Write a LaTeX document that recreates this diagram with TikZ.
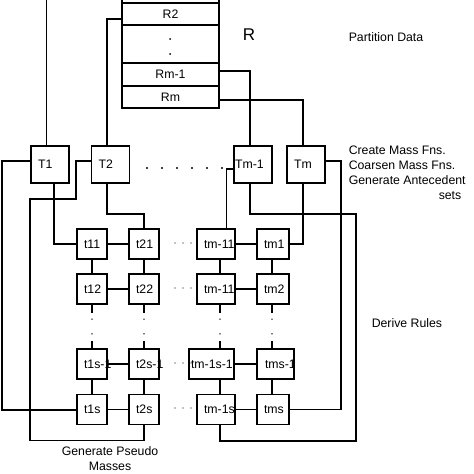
\documentclass[tikz,border=0pt]{standalone}
\usepackage{fontspec}
\setmainfont{Liberation Sans}
\usetikzlibrary{positioning,calc}
\tikzset{
  every node/.style={font=\fontsize{12.3}{15}\selectfont},
  rrow/.style={draw,minimum width=97pt,inner sep=0pt,minimum height=#1},
  tbox/.style={draw,minimum height=37pt,text width=24pt,inner xsep=7pt,align=left},
  gbox/.style={draw,minimum height=30pt,text width=16pt,inner xsep=7pt,align=left},
}
\exhyphenpenalty=10000
\hbadness=10000
\hfuzz=100pt

\begin{document}
\begin{tikzpicture}[x=1pt,y=-1pt,line width=1.5pt]
\path[use as bounding box,clip] (0,0) rectangle (474,474);
% partition table
\node[rrow=22pt] (R1) at (170.5,-8) {};
\node[rrow=22pt] (R2) at (170.5,14) {R2};
\node[rrow=38pt] (Rd) at (170.5,44) {};
\node[rrow=23pt] (Rm1) at (170.5,74.5) {Rm-1};
\node[rrow=22pt] (Rm) at (170.5,97) {Rm};
\fill (170,39) circle[radius=1pt] (170,54) circle[radius=1pt];
\node[font=\fontsize{17}{20}\selectfont] (Rname) at (249,35) {R};
\node[anchor=west,inner sep=0pt] (part) at (348,37) {Partition Data};
% mass function tasks
\node[tbox] (T1) at (50,164.5) {T1};
\node[tbox] (T2) at (110.5,164.5) {T2};
\node[tbox,inner xsep=1pt,text width=36pt] (Tm1) at (253,164.5) {Tm-1};
\node[tbox] (Tm) at (306,164.5) {Tm};
\foreach \x in {147,162,...,222}
  \fill (\x,168) circle[radius=1.1pt];
\node[anchor=north west,inner sep=0pt,align=left] (steps) at (348,145.5)
  {Create Mass Fns.\\Coarsen Mass Fns.\\Generate Antecedent\\\hspace*{90pt}sets};
% rule grid
\coordinate (c1) at (92,0);
\coordinate (c2) at (144,0);
\coordinate (c3) at (220,0);
\coordinate (c4) at (272,0);
\node[gbox] (t11) at (92,244) {t11};
\node[gbox] (t21) at (144,244) {t21};
\node[gbox,text width=24pt] (tm11) at (216,244) {tm-11};
\node[gbox,text width=18pt] (tm1) at (273,244) {tm1};
\node[gbox] (t12) at (92,289) {t12};
\node[gbox] (t22) at (144,289) {t22};
\node[gbox,text width=24pt] (tm12) at (216,289) {tm-11};
\node[gbox,text width=18pt] (tm2) at (273,289) {tm2};
\node[gbox] (t1sm) at (92,364) {t1s-1};
\node[gbox] (t2sm) at (144,364) {t2s-1};
\node[gbox,inner xsep=2pt,text width=41pt] (tm1sm) at (211.5,364) {tm-1s-1};
\node[gbox,inner xsep=8pt,text width=21pt] (tmsm) at (275.5,364) {tms-1};
\node[gbox] (t1s) at (92,409.5) {t1s};
\node[gbox] (t2s) at (144,409.5) {t2s};
\node[gbox,text width=24pt] (tm1s) at (216,409.5) {tm-1s};
\node[gbox,text width=18pt] (tms) at (273,409.5) {tms};
\foreach \a/\b/\c in {t11/t12/c1,t21/t22/c2,tm11/tm12/c3,tm1/tm2/c4,t1sm/t1s/c1,t2sm/t2s/c2,tm1sm/tm1s/c3,tmsm/tms/c4}
  \draw (\a.south -| \c) -- (\b.north -| \c);
\foreach \a/\b/\c in {t12/t1sm/c1,t22/t2sm/c2,tm12/tm1sm/c3,tm2/tmsm/c4}{
  \draw (\a.south -| \c) -- ++(0pt,-8pt);
  \draw (\b.north -| \c) -- ++(0pt,7pt);
  \fill ($(\a.south -| \c)!.33!(\b.north -| \c)$) circle[radius=.8pt];
  \fill ($(\a.south -| \c)!.67!(\b.north -| \c)$) circle[radius=.8pt];
}
\foreach \a/\b in {t11/t21,tm11/tm1,t12/t22,tm12/tm2,t1sm/t2sm,tm1sm/tmsm,t1s/t2s,tm1s/tms}
  \draw (\a.east) -- (\b.west);
\foreach \y in {243,288,363,408}
  \foreach \x in {175,183,191}
    \fill (\x,\y) circle[radius=.7pt];
% connections
\draw (R1.west) -| ([xshift=-3.3pt]T1.north);
\draw ([yshift=-5pt]R2.west) -| ([xshift=-3.5pt]T2.north);
\draw ([yshift=3.5pt]Rm1.east) -| ([xshift=-3pt]Tm1.north);
\draw ([yshift=-3pt]Rm.east) -| ([xshift=-3pt]Tm.north);
\draw[line width=2pt] ([yshift=3.5pt]T1.west) -- ++(-28pt,0pt) |- (t1s.west);
\draw ([xshift=4pt]T1.south) |- (t11.west);
\draw ([yshift=3.5pt]T2.west) -- ++(-15pt,0pt) -- ++(0pt,-38pt) -- ++(-46pt,0pt)
  |- ($(t2s.south)+(0pt,-15pt)$) -- (t2s.south);
\draw ([xshift=-3.5pt]T2.south) -- ++(0pt,-30pt) -| (t21.north);
\draw ([yshift=-4.5pt]Tm1.west) -| ([xshift=10.5pt]tm11.north);
\draw ([xshift=-3pt]Tm1.south) -- ++(0pt,-30pt) -| ++(106pt,-227pt) -| (tm1s.south -| c3);
\draw ([xshift=-3pt]Tm.south) |- (tm1.east);
\draw ([yshift=3.5pt]Tm.east) -- ++(15pt,0pt) |- (tms.east);
\node[anchor=west,inner sep=0pt] (rules) at (371,323) {Derive Rules};
\node[align=center,inner sep=0pt] (pseudo) at (110,458.5) {Generate Pseudo\\Masses};
\end{tikzpicture}
\end{document}
